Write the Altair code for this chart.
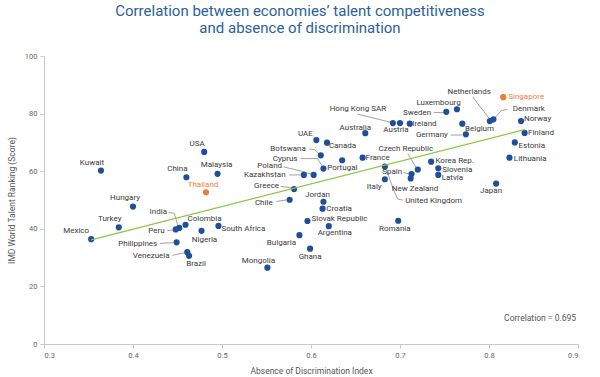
import altair as alt
import pandas as pd

# ---------------- data ----------------
TITLE = ["Correlation between economies\u2019 talent competitiveness",
         "and absence of discrimination"]
X_TITLE = "Absence of Discrimination Index"
Y_TITLE = "IMD World Talent Ranking (Score)"
CORRELATION_TEXT = "Correlation = 0.695"

countries = [
    "Kuwait", "USA", "China", "Malaysia", "Thailand", "Hungary", "Turkey", "Mexico",
    "India", "Peru", "Colombia", "Nigeria", "South Africa", "Philippines", "Venezuela",
    "Brazil", "UAE", "Canada", "Botswana", "Cyprus", "Portugal", "Poland", "Kazakhstan",
    "Greece", "Chile", "Jordan", "Croatia", "Slovak Republic", "Argentina", "Bulgaria",
    "Ghana", "Mongolia", "Hong Kong SAR", "Austria", "Ireland", "Australia", "France",
    "Czech Republic", "Spain", "Italy", "New Zealand", "United Kingdom", "Luxembourg",
    "Sweden", "Belgium", "Germany", "Netherlands", "Denmark", "Singapore", "Norway",
    "Finland", "Estonia", "Lithuania", "Japan", "Korea Rep.", "Slovenia", "Latvia", "Romania",
]
discrimination_index = [
    0.364, 0.480, 0.460, 0.495, 0.482, 0.400, 0.384, 0.353,
    0.452, 0.448, 0.459, 0.477, 0.496, 0.449, 0.461,
    0.463, 0.606, 0.618, 0.611, 0.614, 0.635, 0.603, 0.592,
    0.581, 0.576, 0.614, 0.613, 0.596, 0.620, 0.587,
    0.599, 0.551, 0.692, 0.700, 0.711, 0.661, 0.658,
    0.720, 0.713, 0.683, 0.712, 0.683, 0.764,
    0.752, 0.770, 0.774, 0.801, 0.805, 0.816, 0.836,
    0.840, 0.829, 0.823, 0.808, 0.735, 0.743, 0.743, 0.698,
]
talent_score = [
    60.2, 66.7, 57.9, 59.1, 52.7, 47.7, 40.5, 36.4,
    40.3, 39.8, 41.4, 39.3, 41.0, 35.3, 31.9,
    30.6, 70.8, 69.9, 65.5, 60.9, 63.8, 58.7, 58.7,
    53.8, 50.1, 49.4, 47.0, 42.7, 40.9, 37.8,
    33.1, 26.5, 76.7, 76.7, 76.5, 73.2, 64.7,
    60.6, 59.0, 57.2, 57.5, 61.6, 81.5,
    80.6, 76.5, 72.8, 77.4, 78.0, 85.7, 77.4,
    73.3, 70.0, 64.7, 55.7, 63.3, 61.0, 58.7, 42.8,
]
highlighted = ["Thailand", "Singapore"]

x_ticks = [0.3, 0.4, 0.5, 0.6, 0.7, 0.8, 0.9]
y_ticks = [0, 20, 40, 60, 80, 100]

# ---------------- layout / style ----------------
W, H = 534, 288
X0, X1 = 0.3, 0.9
Y0, Y1 = 0, 100
PX_X = W / (X1 - X0)
PX_Y = H / (Y1 - Y0)

DOT = "#1f4e9a"
ORANGE = "#ef7b3a"
GREEN = "#8dc63f"
LABEL = "#3a3a3a"
FONT = "Roboto"

# label placement in pixels relative to the dot: (dx, dy, align)
label_layout = {
    "Kuwait": (-9, -8, "center"), "USA": (-7, -8, "center"), "China": (-9, -8, "center"),
    "Malaysia": (-1, -9, "center"), "Thailand": (-3, -7, "center"),
    "Hungary": (-8, -9, "center"), "Turkey": (-9, -8, "center"), "Mexico": (-15, -8, "center"),
    "India": (-21, -15.5, "center"), "Peru": (-11, 1.5, "right"), "Colombia": (2, -6, "left"),
    "Nigeria": (3, 9, "center"), "South Africa": (3, 3, "left"),
    "Philippines": (-19.4, 1.7, "right"), "Venezuela": (-17.7, 3.6, "right"),
    "Brazil": (7, 8.5, "center"), "UAE": (-11, -6, "center"), "Canada": (2, 3, "left"),
    "Botswana": (-15, -6.3, "right"), "Cyprus": (-26, -10, "right"),
    "Portugal": (-15, 7.7, "left"), "Poland": (-31.6, -8.7, "right"),
    "Kazakhstan": (-18.3, 0, "right"), "Greece": (-15, -2.7, "right"),
    "Chile": (-17, 3, "right"), "Jordan": (-6, -7, "center"), "Croatia": (3.7, 0.3, "left"),
    "Slovak Republic": (4, -1.7, "left"), "Argentina": (6, 7, "center"),
    "Bulgaria": (-18, 7.7, "center"), "Ghana": (0, 8, "center"), "Mongolia": (-9, -6.5, "center"),
    "Hong Kong SAR": (-35, -13.7, "center"), "Austria": (-4, 7, "center"),
    "Ireland": (2.5, 0, "left"), "Australia": (-10, -5, "center"), "France": (3, 0, "left"),
    "Czech Republic": (-12, -20.7, "center"), "Spain": (-9.4, -1.7, "right"),
    "Italy": (-10.7, 8, "center"), "New Zealand": (4.3, 10.4, "center"),
    "United Kingdom": (20.3, 34, "left"), "Luxembourg": (-18.4, -6, "center"),
    "Sweden": (-15, 0.7, "right"), "Belgium": (2.7, 5, "left"), "Germany": (-18, 0.7, "right"),
    "Netherlands": (-20.7, -29.3, "center"), "Denmark": (19.4, -10, "left"),
    "Singapore": (5, 0, "left"), "Norway": (3, -1.7, "left"), "Finland": (3.4, 0, "left"),
    "Estonia": (3.7, 3.7, "left"), "Lithuania": (4.4, 1.3, "left"), "Japan": (-5, 7.3, "center"),
    "Korea Rep.": (4.3, -1, "left"), "Slovenia": (4, 2, "left"), "Latvia": (3.4, 3.3, "left"),
    "Romania": (-3.4, 8.3, "center"),
}

# leader lines in pixels relative to the dot
leaders = {
    "India": [(-10.6, -15.3), (-5, -14.7), (-1, -0.7)],
    "Peru": [(-8.5, 1.3), (-2.5, 0.7)],
    "Philippines": [(-16.7, 1.0), (-3.4, 0.4)],
    "Venezuela": [(-15, 3.3), (-2.5, 0.5)],
    "Botswana": [(-11.7, -6.3), (-6.7, -6.0), (-1.5, -1.5)],
    "Cyprus": [(-23, -10), (-6, -10), (-0.7, -1.7)],
    "Poland": [(-30, -8), (-11.6, -3.7), (-1.5, -0.3)],
    "Kazakhstan": [(-15, 0), (-2, 0)],
    "Greece": [(-13.3, -2.7), (-2, -1)],
    "Chile": [(-13.3, 1.7), (-3, 0.3)],
    "Hong Kong SAR": [(-35.6, -9), (-1.6, -0.7)],
    "Czech Republic": [(-10, -16), (-1.5, -1.5)],
    "Spain": [(-8, -1.5), (-2, 0)],
    "United Kingdom": [(1.5, 3), (9, 24), (13, 32.5), (18, 33.5)],
    "Sweden": [(-12.4, 0.7), (-2.4, 0.7)],
    "Germany": [(-15.3, 0.7), (-3.6, 0.7)],
    "Netherlands": [(-17.3, -24.3), (-1, -3)],
    "Denmark": [(14, -10), (7.7, -8.6), (1, -1)],
}

# ---------------- tables ----------------
pts = pd.DataFrame({"country": countries, "x": discrimination_index, "y": talent_score})
pts["group"] = ["highlight" if c in highlighted else "normal" for c in countries]

lab_rows = []
for c, xv, yv in zip(countries, discrimination_index, talent_score):
    dx, dy, al = label_layout[c]
    lab_rows.append({"country": c, "x": xv + dx / PX_X, "y": yv - dy / PX_Y, "align": al,
                     "group": "highlight" if c in highlighted else "normal"})
labs = pd.DataFrame(lab_rows)

lead_rows = []
lookup = dict(zip(countries, zip(discrimination_index, talent_score)))
for c, segs in leaders.items():
    xv, yv = lookup[c]
    for i, (dx, dy) in enumerate(segs):
        lead_rows.append({"country": c, "idx": i, "x": xv + dx / PX_X, "y": yv - dy / PX_Y})
leads = pd.DataFrame(lead_rows)

# ---------------- encodings ----------------
X = alt.X("x:Q", scale=alt.Scale(domain=[X0, X1], nice=False, zero=False),
          axis=alt.Axis(values=x_ticks, format=".1f", title=X_TITLE, titlePadding=8))
Y = alt.Y("y:Q", scale=alt.Scale(domain=[Y0, Y1], nice=False),
          axis=alt.Axis(values=y_ticks, title=Y_TITLE, titlePadding=8))
is_hl = alt.datum.group == "highlight"

points = alt.Chart(pts).mark_circle(size=38, opacity=1).encode(
    x=X, y=Y, color=alt.condition(is_hl, alt.value(ORANGE), alt.value(DOT)))

trend = alt.Chart(pts).transform_regression("x", "y").mark_line(
    color=GREEN, strokeWidth=1.2).encode(x=X, y=Y)

leader_lines = alt.Chart(leads).mark_line(color="#8a8a8a", strokeWidth=0.8).encode(
    x=X, y=Y, detail="country:N", order="idx:Q")

label_layers = []
for al in ["left", "center", "right"]:
    label_layers.append(
        alt.Chart(labs[labs["align"] == al]).mark_text(
            align=al, baseline="middle", font=FONT, fontSize=8, fontWeight="normal"
        ).encode(x=X, y=Y, text="country:N",
                 color=alt.condition(is_hl, alt.value(ORANGE), alt.value(LABEL)))
    )

corr = alt.Chart(pd.DataFrame({"t": [CORRELATION_TEXT]})).mark_text(
    align="right", baseline="middle", font=FONT, fontSize=8.5, color="#555555"
).encode(x=alt.value(W - 2), y=alt.value(262), text="t:N")

chart = alt.layer(leader_lines, points, trend, *label_layers, corr).properties(
    width=W, height=H,
    title=alt.TitleParams(text=TITLE, font=FONT, fontSize=15, fontWeight="normal", color="#2c5f99",
                          anchor="middle", dx=-11, offset=16, lineHeight=17),
    autosize=alt.AutoSizeParams(type="none"),
    padding={"left": 44, "top": 56, "right": 22, "bottom": 33},
).configure_axis(
    grid=False, domainColor="#c8c8c8", tickColor="#c8c8c8", tickSize=4,
    labelColor="#666666", labelFontSize=7.5, labelFont=FONT, labelPadding=3,
    titleColor="#555555", titleFontSize=8.5, titleFont=FONT, titleFontWeight="normal",
).configure_view(stroke=None)

chart.save("out.html", embed_options={"renderer": "svg", "actions": False})
